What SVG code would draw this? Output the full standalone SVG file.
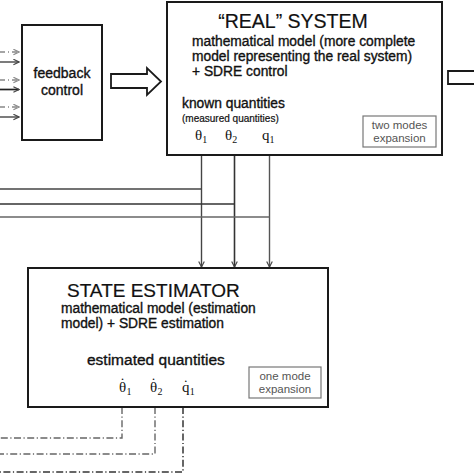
<svg xmlns="http://www.w3.org/2000/svg" width="474" height="474" viewBox="0 0 474 474">
<defs>
<style>
.box{fill:#fff;stroke:#1a1a1a;stroke-width:2}
.sub{fill:#fff;stroke:#777;stroke-width:1.2}
.t{font-family:"Liberation Sans",Arial,sans-serif;fill:#111;stroke:#111;stroke-width:0.35}
.s{font-family:"Liberation Serif","Times New Roman",serif;fill:#111}
.g{font-family:"Liberation Sans",Arial,sans-serif;fill:#555;font-size:11.5px;text-anchor:middle}
.ln{fill:none;stroke:#444;stroke-width:1.4}
.dd{fill:none;stroke:#666;stroke-width:1.4;stroke-dasharray:7 2.5 1.2 2.5}
.in{fill:none;stroke:#444;stroke-width:1.4}
.ind{fill:none;stroke:#888;stroke-width:1.3;stroke-dasharray:5 3 1 3}
.hollow{fill:#fff;stroke:#1a1a1a;stroke-width:1.8}
</style>
<marker id="ah" viewBox="0 0 10 10" refX="9" refY="5" markerWidth="7" markerHeight="7" orient="auto" markerUnits="userSpaceOnUse">
<path d="M1,1 L9,5 L1,9" fill="none" stroke="#444" stroke-width="1.6"/>
</marker>
<marker id="ahg" viewBox="0 0 10 10" refX="9" refY="5" markerWidth="7" markerHeight="7" orient="auto" markerUnits="userSpaceOnUse">
<path d="M1,1 L9,5 L1,9" fill="none" stroke="#888" stroke-width="1.6"/>
</marker>
</defs>
<rect width="474" height="474" fill="#fff"/>

<g id="connectors">
<line class="ind" x1="0" y1="52" x2="19" y2="52" marker-end="url(#ahg)"/>
<line class="in" x1="0" y1="62" x2="19" y2="62" marker-end="url(#ah)"/>
<line class="ind" x1="0" y1="80" x2="19" y2="80" marker-end="url(#ahg)"/>
<line class="in" x1="0" y1="89.5" x2="19" y2="89.5" marker-end="url(#ah)" style="stroke:#222;stroke-width:1.7"/>
<line class="ind" x1="0" y1="107" x2="19" y2="107" marker-end="url(#ahg)"/>
<line class="in" x1="0" y1="117" x2="19" y2="117" marker-end="url(#ah)"/>
<path class="hollow" d="M111,74 L147,74 L147,68 L161,81.5 L147,95 L147,88 L111,88 Z"/>
<path class="hollow" d="M448,71 L480,71 L480,84 L448,84 Z"/>
<line class="ln" x1="201.5" y1="155" x2="201.5" y2="267" marker-end="url(#ah)"/>
<line class="ln" x1="234.5" y1="155" x2="234.5" y2="267" marker-end="url(#ah)" style="stroke:#333;stroke-width:1.6"/>
<line class="ln" x1="269.5" y1="155" x2="269.5" y2="267" marker-end="url(#ah)" style="stroke:#555"/>
<polyline class="ln" points="0,189 201.5,189"/>
<polyline class="ln" points="0,204 234.5,204" style="stroke:#333;stroke-width:1.6"/>
<polyline class="ln" points="0,217 269.5,217" style="stroke:#666"/>
<polyline class="dd" points="122,407 122,438 0,438"/>
<polyline class="dd" points="155,407 155,454 0,454"/>
<polyline class="dd" points="183,407 183,472 0,472" style="stroke-width:2"/>
</g>

<g id="feedback-control">
<rect class="box" x="22" y="25" width="80" height="115"/>
<text class="t" x="62" y="78" font-size="14" text-anchor="middle">feedback</text>
<text class="t" x="62" y="95" font-size="14" text-anchor="middle">control</text>
</g>

<g id="real-system">
<rect class="box" x="167" y="2" width="275" height="153"/>
<text class="t" x="293" y="28" font-size="19.5" text-anchor="middle" style="stroke-width:0.2">“REAL” SYSTEM</text>
<text class="t" x="192" y="46" font-size="13.8">mathematical model (more complete</text>
<text class="t" x="192" y="61" font-size="13.8">model representing the real system)</text>
<text class="t" x="192" y="76" font-size="13.8">+ SDRE control</text>
<text class="t" x="182" y="108" font-size="13.8">known quantities</text>
<text class="t" x="182" y="122" font-size="10" style="stroke-width:0.2">(measured quantities)</text>
<text class="s" x="195" y="140" font-size="15">θ<tspan font-size="10" dy="3">1</tspan></text>
<text class="s" x="225" y="140" font-size="15">θ<tspan font-size="10" dy="3">2</tspan></text>
<text class="s" x="262" y="140" font-size="15">q<tspan font-size="10" dy="3">1</tspan></text>
<g id="two-modes">
<rect class="sub" x="363" y="116" width="73" height="31"/>
<text class="g" x="399.5" y="129">two modes</text>
<text class="g" x="399.5" y="142">expansion</text>
</g>
</g>

<g id="state-estimator">
<rect class="box" x="28" y="268" width="300" height="139"/>
<text class="t" x="67" y="297" font-size="19" style="stroke-width:0.2">STATE ESTIMATOR</text>
<text class="t" x="61" y="313" font-size="13.8">mathematical model (estimation</text>
<text class="t" x="61" y="328" font-size="13.8">model) + SDRE estimation</text>
<text class="t" x="87" y="365" font-size="15.5">estimated quantities</text>
<text class="s" x="119" y="392" font-size="15">θ<tspan dx="-6.3" dy="-4.5">˙</tspan><tspan font-size="10" dx="1.5" dy="7.5">1</tspan></text>
<text class="s" x="150" y="392" font-size="15">θ<tspan dx="-6.3" dy="-4.5">˙</tspan><tspan font-size="10" dx="1.5" dy="7.5">2</tspan></text>
<text class="s" x="182" y="392" font-size="15">q<tspan dx="-6.3" dy="-2">˙</tspan><tspan font-size="10" dx="1.5" dy="5">1</tspan></text>
<g id="one-mode">
<rect class="sub" x="249" y="367" width="72" height="31"/>
<text class="g" x="285" y="380">one mode</text>
<text class="g" x="285" y="393">expansion</text>
</g>
</g>
</svg>
